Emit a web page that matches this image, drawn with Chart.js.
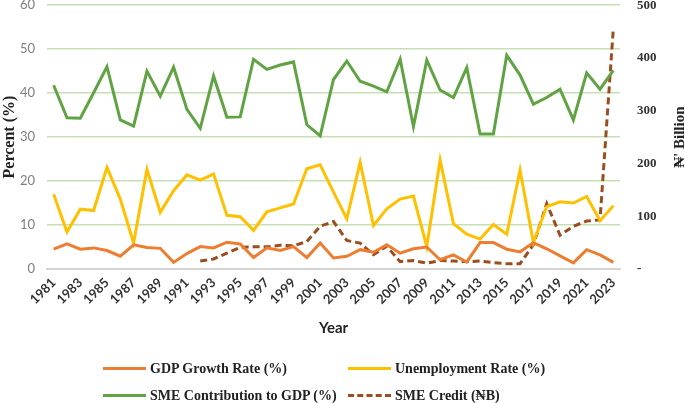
<!DOCTYPE html>
<html>
<head>
<meta charset="utf-8">
<script src="https://cdn.jsdelivr.net/npm/chart.js@4.4.0/dist/chart.umd.min.js"></script>
<style>
  html, body { margin: 0; padding: 0; background: #fff; }
  #wrap { position: relative; width: 685px; height: 403px; }
  #legend { position: absolute; left: 103px; top: 359px; font: bold 14px "Liberation Serif", serif; color: #222; }
  .item { position: absolute; white-space: nowrap; height: 20px; line-height: 20px; }
  .swatch { display: inline-block; width: 43px; height: 0; border-top: 3px solid; vertical-align: middle; margin-right: 4px; position: relative; top: -1px; }
</style>
</head>
<body>
<div id="wrap">
  <canvas id="chart" width="685" height="403"></canvas>
  <div id="legend"></div>
</div>
<script>
let years = [];
for (let y = 1981; y <= 2023; y++) years.push(String(y));

// GDP growth rate (%)
let gdpGrowth = [4.5, 5.7, 4.5, 4.8, 4.2, 2.9, 5.5, 4.9, 4.7, 1.5,
                 3.5, 5.1, 4.8, 6.1, 5.7, 2.6, 4.8, 4.2, 5.1, 2.6,
                 5.9, 2.5, 2.9, 4.4, 3.8, 5.5, 3.6, 4.6, 5.0, 2.1,
                 3.2, 1.6, 6.0, 6.0, 4.5, 3.9, 6.0, 4.6, 3.0, 1.4,
                 4.4, 3.2, 1.5];
// unemployment rate (%)
let unemployment = [17.0, 8.4, 13.6, 13.3, 23.1, 15.9, 5.9, 22.7, 12.9, 17.8,
                     21.4, 20.2, 21.6, 12.2, 11.9, 8.8, 13.0, 13.9, 14.8, 22.8,
                     23.7, 17.5, 11.4, 24.3, 9.9, 13.7, 15.9, 16.6, 5.1, 24.8,
                     10.3, 7.9, 6.8, 10.1, 7.9, 22.5, 6.0, 14.2, 15.3, 15.0,
                     16.5, 11.0, 14.4];
// SME contribution to GDP (%)
let smeContribution = [41.8, 34.4, 34.3, 40.1, 46.0, 33.9, 32.5, 45.0, 39.3, 45.9,
                       36.3, 32.0, 43.9, 34.5, 34.6, 47.7, 45.4, 46.4, 47.1, 32.8,
                       30.3, 43.1, 47.3, 42.7, 41.6, 40.3, 47.7, 32.4, 47.5, 40.7,
                       39.0, 45.8, 30.7, 30.7, 48.6, 44.1, 37.5, 39.0, 40.9, 33.9,
                       44.6, 40.9, 45.2];
// SME credit (N billion), no data before 1992
let smeCredit = [null, null, null, null, null, null, null, null, null, null,
                 null, 15, 19, 30, 41, 42, 42, 45, 44, 52,
                 81, 90, 54, 49, 27, 43, 14, 16, 11, 16,
                 15, 14, 15, 12, 10, 10, 46, 124, 64, 81,
                 91, 93, 456];

let leftTicks = [0, 10, 20, 30, 40, 50, 60];
let rightTicks = [0, 100, 200, 300, 400, 500];

const serif = '"Liberation Serif", serif';
const sans = 'Lato, "Liberation Sans", sans-serif';

const rightTitle = {
    id: 'rightTitle',
    afterDraw(chart) {
        const ctx = chart.ctx;
        const area = chart.chartArea;
        ctx.save();
        ctx.translate(680, (area.top + area.bottom) / 2);
        ctx.rotate(-Math.PI / 2);
        ctx.font = 'bold 15px ' + serif;
        ctx.fillStyle = '#222';
        ctx.textAlign = 'center';
        ctx.textBaseline = 'middle';
        ctx.fillText("\u20A6' Billion", 0, 0);
        ctx.restore();
    }
};

const datasets = [
    { label: 'GDP Growth Rate (%)', data: gdpGrowth, borderColor: '#ED7D31', yAxisID: 'y' },
    { label: 'Unemployment Rate (%)', data: unemployment, borderColor: '#FFC000', yAxisID: 'y' },
    { label: 'SME Contribution to GDP (%)', data: smeContribution, borderColor: '#5FA342', yAxisID: 'y' },
    { label: 'SME Credit (\u20A6B)', data: smeCredit, borderColor: '#9C4D1E', yAxisID: 'y2', borderDash: [7, 4] }
];
datasets.forEach(d => {
    d.borderWidth = 3;
    d.pointRadius = 0;
    d.fill = false;
    d.tension = 0;
    d.spanGaps = false;
    d.borderCapStyle = 'butt';
});

const chart = new Chart(document.getElementById('chart'), {
    type: 'line',
    data: { labels: years, datasets: datasets },
    options: {
        responsive: false,
        animation: false,
        layout: { padding: { left: 0, right: 0, top: 0, bottom: 66 } },
        plugins: { legend: { display: false }, tooltip: { enabled: false } },
        scales: {
            x: {
                offset: true,
                afterFit: s => { s.height = 68; },
                grid: { display: false, drawTicks: false },
                border: { color: '#d4d4d4', width: 2 },
                ticks: {
                    autoSkip: false,
                    maxRotation: 45,
                    minRotation: 45,
                    padding: 6,
                    color: '#333',
                    font: { family: sans, size: 13, weight: 'bold' },
                    callback: function(v, i) { return i % 2 === 0 ? this.getLabelForValue(v) : ''; }
                },
                title: { display: true, text: 'Year', color: '#222', padding: { top: 2, bottom: 0 },
                         font: { family: sans, size: 15, weight: 'bold' } }
            },
            y: {
                position: 'left',
                min: 0, max: 60,
                afterFit: s => { s.width = 47; },
                afterBuildTicks: s => { s.ticks = leftTicks.map(v => ({ value: v })); },
                grid: { color: '#c6e0b4', lineWidth: 1.5, drawTicks: true, tickLength: 12, tickColor: 'rgba(0,0,0,0)' },
                border: { display: false },
                ticks: { padding: 0, color: '#7f7f7f', font: { family: sans, size: 13, lineHeight: 0.8 } },
                title: { display: true, text: 'Percent (%)', color: '#222', padding: { top: 0, bottom: 0 },
                         font: { family: serif, size: 16, weight: 'bold' } }
            },
            y2: {
                position: 'right',
                min: 0, max: 500,
                afterFit: s => { s.width = 65; },
                afterBuildTicks: s => { s.ticks = rightTicks.map(v => ({ value: v })); },
                grid: { display: true, drawOnChartArea: false, drawTicks: true, tickLength: 17, tickColor: 'rgba(0,0,0,0)' },
                border: { display: false },
                ticks: {
                    padding: 0, color: '#333',
                    font: { family: serif, size: 13, weight: 'bold', lineHeight: 0.8 },
                    callback: v => v === 0 ? '-' : String(v)
                }
            }
        }
    },
    plugins: [rightTitle]
});

// legend, two columns like the original
const legend = document.getElementById('legend');
const cols = [0, 245];
const rows = [0, 27];
datasets.forEach((d, i) => {
    const item = document.createElement('div');
    item.className = 'item';
    item.style.left = cols[i % 2] + 'px';
    item.style.top = rows[Math.floor(i / 2)] + 'px';
    const sw = document.createElement('span');
    sw.className = 'swatch';
    sw.style.borderTopColor = d.borderColor;
    if (d.borderDash) sw.style.borderTopStyle = 'dashed';
    item.appendChild(sw);
    item.appendChild(document.createTextNode(d.label));
    legend.appendChild(item);
});
</script>
</body>
</html>
